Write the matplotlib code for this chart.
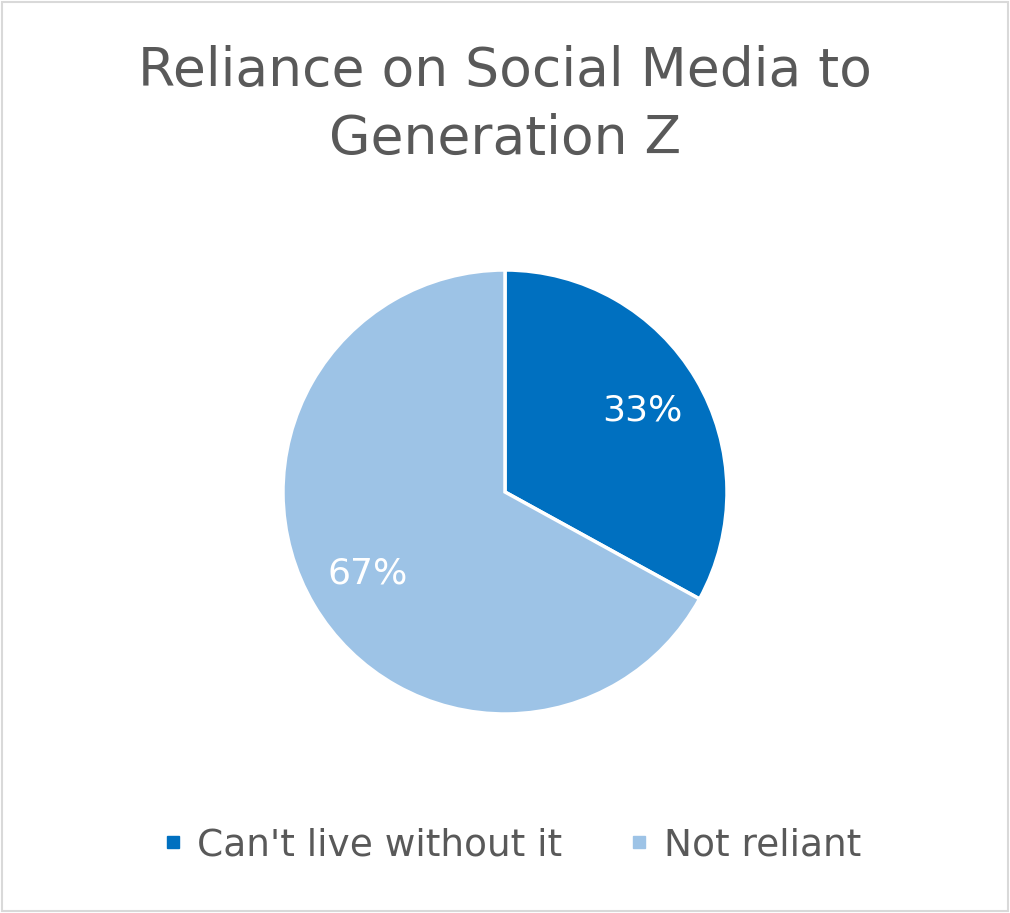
import matplotlib
matplotlib.use("Agg")
import matplotlib.pyplot as plt
from matplotlib.patches import Rectangle
from matplotlib.lines import Line2D

title = "Reliance on Social Media to\nGeneration Z"
labels = ["Can't live without it", "Not reliant"]
values = [33, 67]
colors = ["#0070C0", "#9DC3E6"]

text_color = "#595959"
plt.rcParams["font.family"] = ["DejaVu Sans"]


def main():
    fig = plt.figure(figsize=(10.10, 9.13), dpi=100)
    fig.patch.set_facecolor("white")

    # light grey chart border
    fig.add_artist(Rectangle((0.002, 0.002), 0.996, 0.996, transform=fig.transFigure,
                             fill=False, edgecolor="#D9D9D9", linewidth=1.5))

    fig.text(0.5, 1 - 154 / 913, title, ha="center", va="baseline", fontsize=38.5,
             color=text_color, linespacing=1.38)

    # pie centred at (505, 492) px, radius 222 px
    ax = fig.add_axes([283 / 1010, 199 / 913, 444 / 1010, 444 / 913])
    wedges, texts, autotexts = ax.pie(
        values, colors=colors, startangle=90, counterclock=False, radius=1,
        autopct="%d%%", pctdistance=0.72,
        wedgeprops=dict(edgecolor="white", linewidth=2.5),
        textprops=dict(color="white", fontsize=26),
    )
    ax.set_xlim(-1, 1)
    ax.set_ylim(-1, 1)
    ax.set_aspect("equal")

    handles = [Line2D([], [], marker="s", linestyle="none", markersize=8,
                      markerfacecolor=c, markeredgecolor=c) for c in colors]
    fig.legend(handles, labels, loc="center", bbox_to_anchor=(0.509, 0.074),
               ncol=2, frameon=False, fontsize=27, labelcolor=text_color,
               handlelength=0.3, handletextpad=0.5, columnspacing=1.9)

    fig.savefig("out.png", dpi=100)


if __name__ == "__main__":
    main()
